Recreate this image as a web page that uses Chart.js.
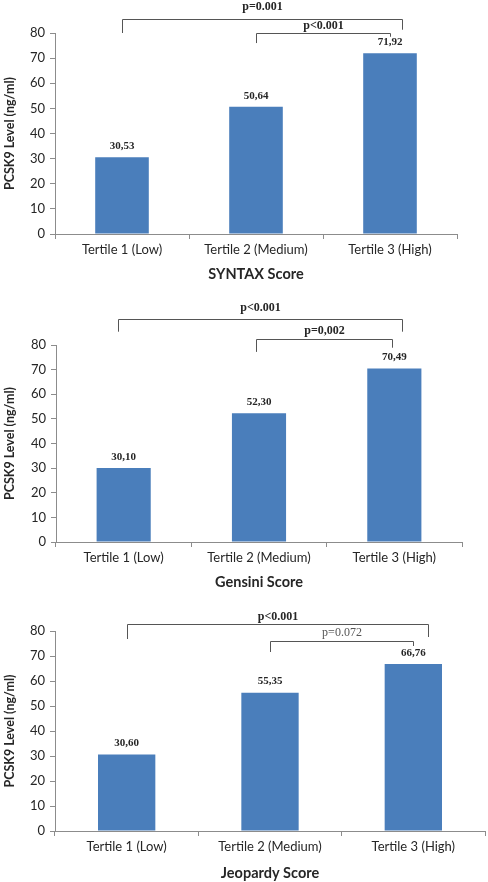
<!DOCTYPE html>
<html lang="en">
<head>
<meta charset="UTF-8">
<title>PCSK9 Level by Score Tertile</title>
<script src="https://cdn.jsdelivr.net/npm/chart.js@4"></script>
<style>
  body { margin: 0; background: #fff; }
  .wrap { position: relative; width: 488px; height: 882px; }
  canvas { position: absolute; left: 0; }
</style>
</head>
<body>
<div class="wrap">
  <canvas id="syntaxChart" width="488" height="283" style="top:0"></canvas>
  <canvas id="gensiniChart" width="488" height="296" style="top:295px"></canvas>
  <canvas id="jeopardyChart" width="488" height="292" style="top:590px"></canvas>
</div>

<script>
const categories = ['Tertile 1 (Low)', 'Tertile 2 (Medium)', 'Tertile 3 (High)'];
const yTicks = [0, 10, 20, 30, 40, 50, 60, 70, 80];

const syntaxValues = [30.53, 50.64, 71.92];
const gensiniValues = [30.10, 52.30, 70.49];
const jeopardyValues = [30.60, 55.35, 66.76];

const syntaxPvalues = ['p=0.001', 'p<0.001'];
const gensiniPvalues = ['p<0.001', 'p=0,002'];
const jeopardyPvalues = ['p<0.001', 'p=0.072'];

const barColor = '#4a7ebb';
const axisColor = '#8c8c8c';
const textColor = '#262626';

// value labels above bars, comma decimal like the original
const valueLabels = {
    id: 'valueLabels',
    afterDatasetsDraw(chart) {
        const ctx = chart.ctx;
        const meta = chart.getDatasetMeta(0);
        ctx.save();
        ctx.font = 'bold 11px "Liberation Serif", serif';
        ctx.fillStyle = textColor;
        ctx.textAlign = 'center';
        ctx.textBaseline = 'middle';
        meta.data.forEach((bar, i) => {
            const v = chart.data.datasets[0].data[i];
            ctx.fillText(v.toFixed(2).replace('.', ','), bar.x, bar.y - 11);
        });
        ctx.restore();
    }
};

// significance brackets, placed on the chart's own scales
const brackets = {
    id: 'brackets',
    afterDraw(chart, args, opts) {
        const ctx = chart.ctx;
        const xs = chart.scales.x, ys = chart.scales.y;
        ctx.save();
        ctx.strokeStyle = '#555';
        ctx.lineWidth = 1;
        opts.items.forEach(b => {
            const x1 = Math.round(xs.getPixelForValue(b.from)) + 0.5;
            const x2 = Math.round(xs.getPixelForValue(b.to)) + 0.5;
            const y = Math.round(ys.getPixelForValue(b.level)) + 0.5;
            ctx.beginPath();
            ctx.moveTo(x1, ys.getPixelForValue(b.dropL));
            ctx.lineTo(x1, y);
            ctx.lineTo(x2, y);
            ctx.lineTo(x2, ys.getPixelForValue(b.dropR));
            ctx.stroke();
            ctx.font = (b.bold ? 'bold ' : '') + '12px "Liberation Serif", serif';
            ctx.fillStyle = b.bold ? textColor : '#555';
            ctx.textAlign = 'center';
            ctx.textBaseline = 'middle';
            ctx.fillText(b.label, (x1 + x2) / 2, ys.getPixelForValue(b.textLevel));
        });
        ctx.restore();
    }
};

function makeChart(id, values, title, layout, bracketItems) {
    return new Chart(document.getElementById(id), {
        type: 'bar',
        data: {
            labels: categories,
            datasets: [{
                data: values,
                backgroundColor: barColor,
                barPercentage: 0.8,
                categoryPercentage: 0.5
            }]
        },
        options: {
            responsive: false,
            animation: false,
            events: [],
            layout: { padding: { top: layout.top, right: layout.right, left: 0, bottom: 0 } },
            plugins: {
                legend: { display: false },
                tooltip: { enabled: false },
                brackets: { items: bracketItems }
            },
            scales: {
                x: {
                    grid: { display: true, offset: true, drawOnChartArea: false, drawTicks: true, tickLength: 5, color: axisColor },
                    border: { display: true, color: axisColor },
                    ticks: { color: textColor, padding: 3, font: { family: 'Lato', size: 13 } },
                    title: { display: true, text: title, color: textColor, padding: 0, font: { family: 'Lato', size: 14.5, weight: 'bold' } },
                    afterFit: s => { s.height = layout.xh; }
                },
                y: {
                    min: 0,
                    max: 80,
                    afterBuildTicks: s => { s.ticks = yTicks.map(v => ({ value: v })); },
                    grid: { display: true, drawOnChartArea: false, drawTicks: true, tickLength: 5, color: axisColor },
                    border: { display: true, color: axisColor },
                    ticks: { color: textColor, padding: 5, font: { family: 'Lato', size: 13 } },
                    title: { display: true, text: 'PCSK9 Level (ng/ml)', color: textColor, padding: 2, font: { family: 'Lato', size: 12.5, weight: 'bold' } },
                    afterFit: s => { s.width = layout.yw; }
                }
            }
        },
        plugins: [valueLabels, brackets]
    });
}

makeChart('syntaxChart', syntaxValues, 'SYNTAX Score',
    { top: 33, right: 31, xh: 49, yw: 55 },
    [
        { from: 0, to: 2.09, level: 85.6, dropL: 80, dropR: 81.3, textLevel: 90.4, label: syntaxPvalues[0], bold: true },
        { from: 1, to: 2, level: 80, dropL: 76, dropR: 78.5, textLevel: 82.9, label: syntaxPvalues[1], bold: true }
    ]);

makeChart('gensiniChart', gensiniValues, 'Gensini Score',
    { top: 50, right: 26, xh: 49, yw: 56 },
    [
        { from: -0.04, to: 2.06, level: 90.6, dropL: 85.4, dropR: 85.4, textLevel: 95, label: gensiniPvalues[0], bold: true },
        { from: 0.98, to: 1.98, level: 82.5, dropL: 77.2, dropR: 78.9, textLevel: 85.8, label: gensiniPvalues[1], bold: true }
    ]);

makeChart('jeopardyChart', jeopardyValues, 'Jeopardy Score',
    { top: 41, right: 3, xh: 51, yw: 55 },
    [
        { from: 0, to: 2.1, level: 82.8, dropL: 76.8, dropR: 77.6, textLevel: 85.6, label: jeopardyPvalues[0], bold: true },
        { from: 1, to: 2, level: 76, dropL: 71.6, dropR: 74, textLevel: 79.2, label: jeopardyPvalues[1], bold: false }
    ]);
</script>
</body>
</html>
